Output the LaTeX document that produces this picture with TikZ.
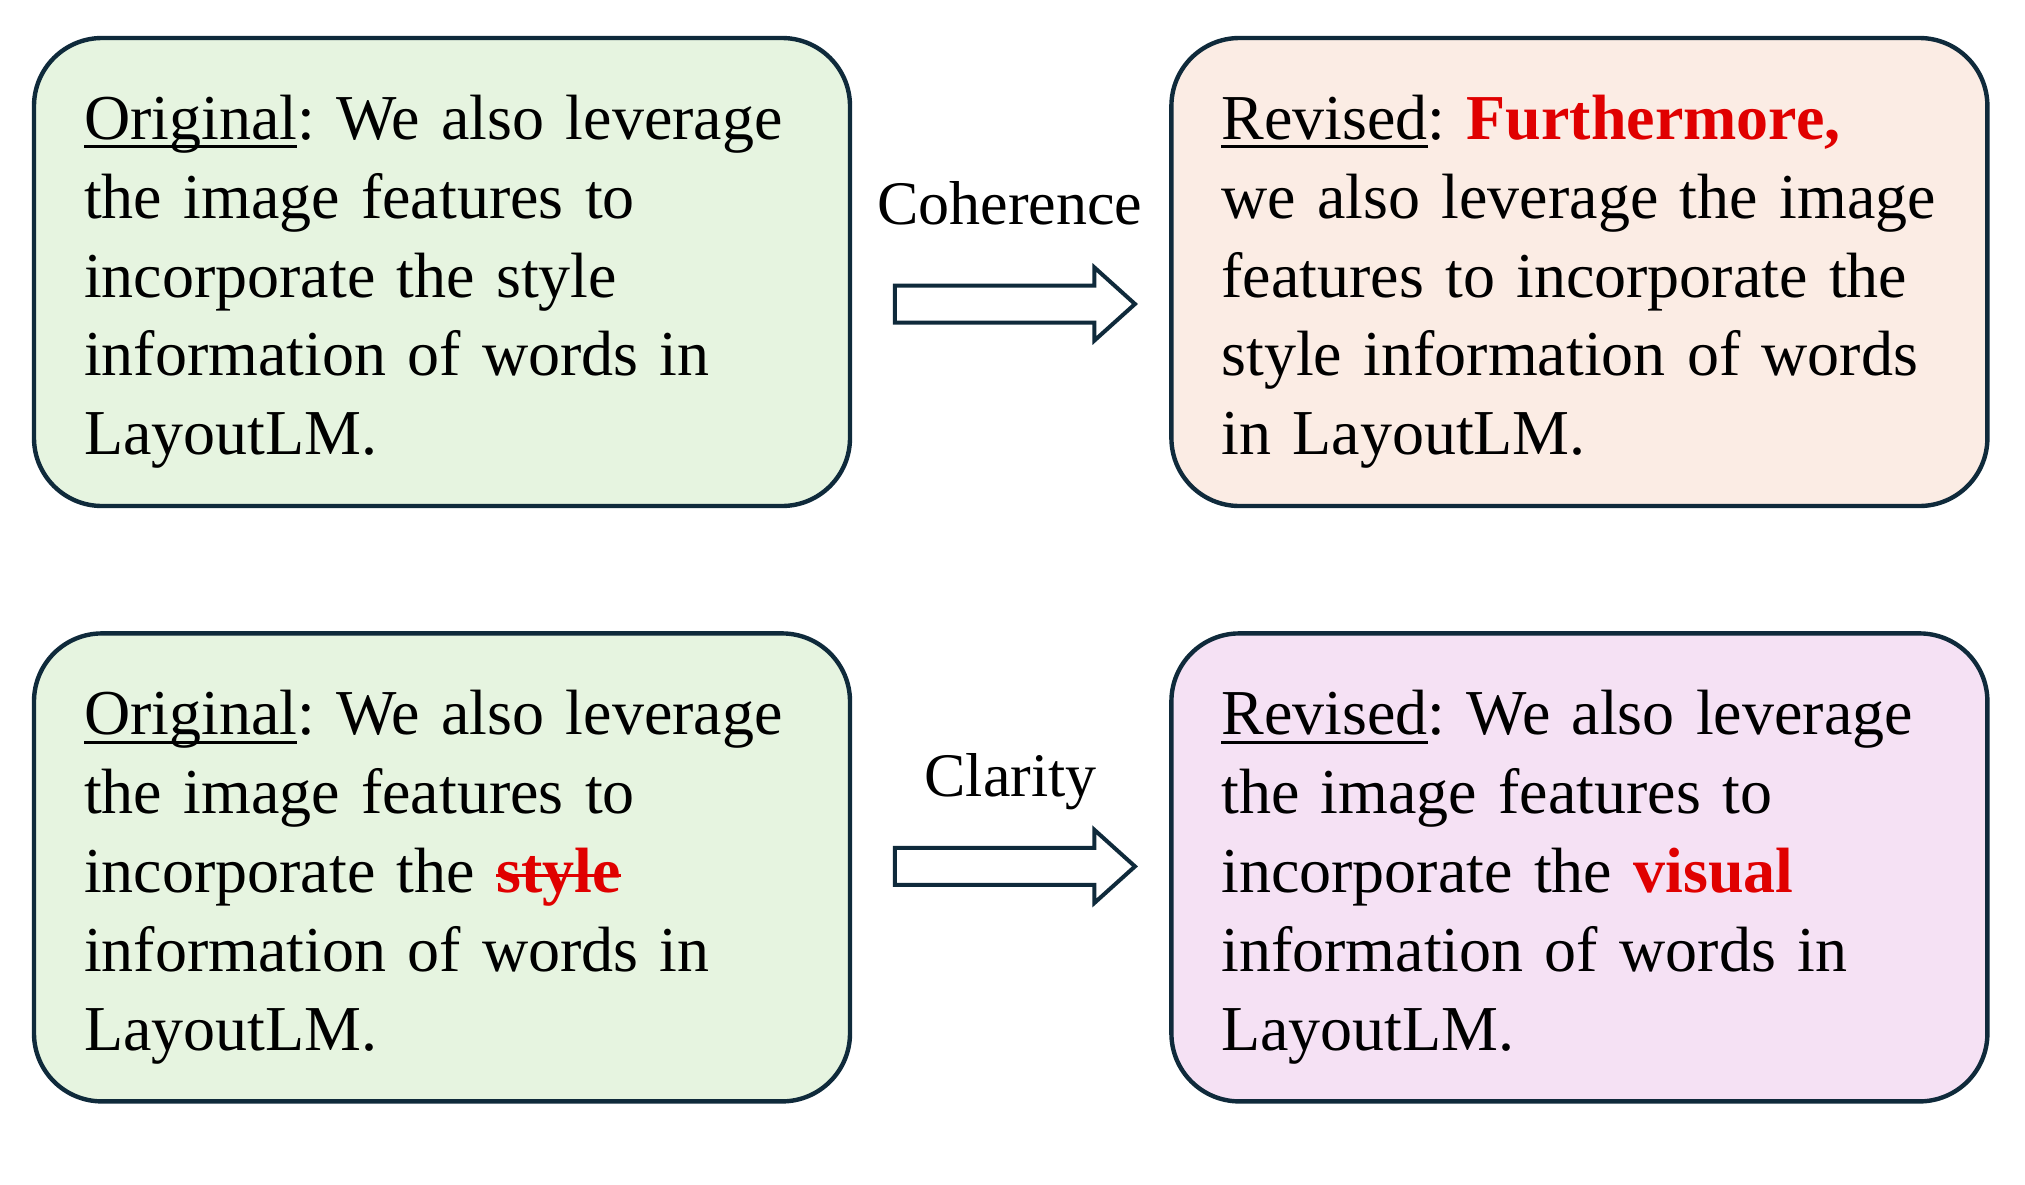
\documentclass[tikz,border=0pt]{standalone}
\usepackage{fontspec}
\setmainfont{Liberation Serif}
\usepackage{xcolor}
\definecolor{cLine}{HTML}{0F2A3B}
\definecolor{cRed}{HTML}{E00000}
\definecolor{cGreen}{HTML}{E6F4E0}
\definecolor{cPeach}{HTML}{FBECE4}
\definecolor{cPink}{HTML}{F5E1F4}
\usetikzlibrary{positioning,calc,shapes.arrows}
\frenchspacing
\newsavebox{\markbox}
\newcommand{\tagword}[1]{\sbox{\markbox}{#1}%
  \rlap{\rule[-0.14em]{\wd\markbox}{1.5pt}}\usebox{\markbox}}
\newcommand{\addword}[1]{\textbf{\color{cRed}#1}}
\newcommand{\delword}[1]{{\color{cRed}\bfseries\sbox{\markbox}{#1}%
  \rlap{\rule[0.24em]{\wd\markbox}{1.6pt}}\usebox{\markbox}}}
\tikzset{
  node-box/.style={draw=cLine,line width=2.2pt,rounded corners=34pt,
    minimum width=408pt,minimum height=234pt,text width=358pt,
    inner xsep=25pt,align=left,
    font=\fontsize{32}{39.4}\selectfont,
    execute at begin node={\rule{0pt}{32pt}}},
  node-orig/.style={fill=cGreen},
  node-coh/.style={fill=cPeach},
  node-clar/.style={fill=cPink},
  block-arrow/.style={draw=cLine,line width=2pt,fill=white,single arrow,
    single arrow head extend=9pt,single arrow tip angle=84,
    inner xsep=0pt,inner ysep=8.25pt,minimum height=120pt},
  arrow-label/.style={font=\fontsize{31}{36}\selectfont},
}
\begin{document}
\begin{tikzpicture}[x=0.5pt,y=-0.5pt,node distance=158.5pt]
  \useasboundingbox (0,0) rectangle (2025,1184);
  \node[node-box,node-orig] (origA) at (442,272)
    {\tagword{Original}: We also leverage\\the image features to\\
     incorporate the style\\information of words in\\LayoutLM.};
  \node[node-box,node-coh,right=of origA] (revA)
    {\tagword{Revised}: \addword{Furthermore,}\\we also leverage the image\\
     features to incorporate the\\style information of words\\in LayoutLM.};
  \node[node-box,node-orig,below=61.5pt of origA] (origB)
    {\tagword{Original}: We also leverage\\the image features to\\
     incorporate the \delword{style}\\information of words in\\LayoutLM.};
  \node[node-box,node-clar,right=of origB] (revB)
    {\tagword{Revised}: We also leverage\\the image features to\\
     incorporate the \addword{visual}\\information of words in\\LayoutLM.};
  % block arrows between the boxes
  \node[block-arrow] (arrA) at ($(origA.east)!0.5!(revA.west)+(-6,32)$) {};
  \node[block-arrow] (arrB) at ($(origB.east)!0.5!(revB.west)+(-6,-1)$) {};
  \node[arrow-label] (lblA) at ($(arrA)+(5,-101)$) {Coherence};
  \node[arrow-label] (lblB) at ($(arrB)+(6,-85)$) {Clarity};
\end{tikzpicture}
\end{document}
